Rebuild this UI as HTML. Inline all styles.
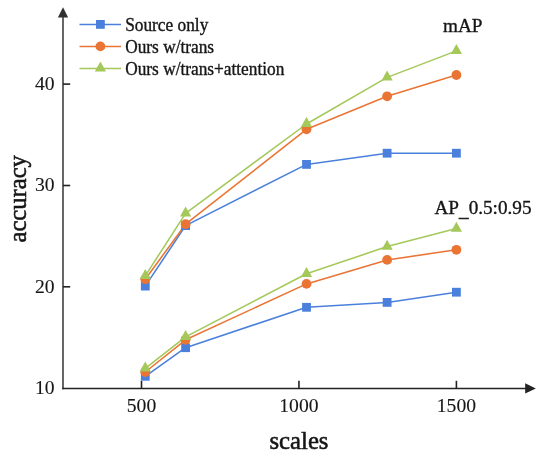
<!DOCTYPE html>
<html><head><meta charset="utf-8"><style>
html,body{margin:0;padding:0;background:#fff;width:550px;height:452px;overflow:hidden}
svg{display:block;font-family:"Liberation Serif",serif}
.t{fill:#161616;stroke:#161616;stroke-width:0.35px}
.b{stroke-width:0.55px}
.n{stroke-width:0.12px}
</style></head><body>
<svg width="550" height="452" viewBox="0 0 550 452">
<line x1="63.0" y1="17" x2="63.0" y2="389.30" stroke="#404040" stroke-width="1.6"/>
<line x1="62.20" y1="388.5" x2="526" y2="388.5" stroke="#222222" stroke-width="1.6"/>
<polygon points="63.0,7.2 68.1,17.6 57.9,17.6" fill="#303030"/>
<polygon points="535.8,388.5 525.2,383.3 525.2,393.6" fill="#222222"/>
<line x1="63.0" y1="84.1" x2="70.2" y2="84.1" stroke="#222222" stroke-width="1.6"/>
<line x1="63.0" y1="185.5" x2="70.2" y2="185.5" stroke="#222222" stroke-width="1.6"/>
<line x1="63.0" y1="286.8" x2="70.2" y2="286.8" stroke="#222222" stroke-width="1.6"/>
<line x1="141.50" y1="380.8" x2="141.50" y2="388.5" stroke="#222222" stroke-width="1.6"/>
<line x1="298.95" y1="380.8" x2="298.95" y2="388.5" stroke="#222222" stroke-width="1.6"/>
<line x1="456.40" y1="380.8" x2="456.40" y2="388.5" stroke="#222222" stroke-width="1.6"/>
<text x="54.5" y="90.0" text-anchor="end" font-size="19.6" class="t n">40</text>
<text x="54.5" y="191.4" text-anchor="end" font-size="19.6" class="t n">30</text>
<text x="54.5" y="292.7" text-anchor="end" font-size="19.6" class="t n">20</text>
<text x="54.5" y="394.4" text-anchor="end" font-size="19.6" class="t n">10</text>
<text x="141.5" y="411.6" text-anchor="middle" font-size="19.6" class="t n">500</text>
<text x="298.9" y="411.6" text-anchor="middle" font-size="19.6" class="t n">1000</text>
<text x="456.4" y="411.6" text-anchor="middle" font-size="19.6" class="t n">1500</text>
<polyline points="145.28,286.10 185.59,225.60 306.51,164.40 387.12,153.20 456.40,153.20" fill="none" stroke="#4A80DC" stroke-width="1.55" stroke-linejoin="round"/>
<polyline points="145.28,279.20 185.59,224.20 306.51,129.30 387.12,96.30 456.40,75.00" fill="none" stroke="#EA7434" stroke-width="1.55" stroke-linejoin="round"/>
<polyline points="145.28,275.90 185.59,213.30 306.51,124.00 387.12,77.40 456.40,50.90" fill="none" stroke="#A4C85A" stroke-width="1.55" stroke-linejoin="round"/>
<rect x="140.88" y="281.70" width="8.8" height="8.8" fill="#4A80DC"/>
<rect x="181.19" y="221.20" width="8.8" height="8.8" fill="#4A80DC"/>
<rect x="302.11" y="160.00" width="8.8" height="8.8" fill="#4A80DC"/>
<rect x="382.72" y="148.80" width="8.8" height="8.8" fill="#4A80DC"/>
<rect x="452.00" y="148.80" width="8.8" height="8.8" fill="#4A80DC"/>
<circle cx="145.28" cy="279.20" r="4.9" fill="#EA7434"/>
<circle cx="185.59" cy="224.20" r="4.9" fill="#EA7434"/>
<circle cx="306.51" cy="129.30" r="4.9" fill="#EA7434"/>
<circle cx="387.12" cy="96.30" r="4.9" fill="#EA7434"/>
<circle cx="456.40" cy="75.00" r="4.9" fill="#EA7434"/>
<polygon points="145.28,269.00 150.88,279.00 139.68,279.00" fill="#A4C85A"/>
<polygon points="185.59,206.40 191.19,216.40 179.99,216.40" fill="#A4C85A"/>
<polygon points="306.51,117.10 312.11,127.10 300.91,127.10" fill="#A4C85A"/>
<polygon points="387.12,70.50 392.72,80.50 381.52,80.50" fill="#A4C85A"/>
<polygon points="456.40,44.00 462.00,54.00 450.80,54.00" fill="#A4C85A"/>
<polyline points="145.28,376.30 185.59,347.70 306.51,307.30 387.12,302.40 456.40,292.20" fill="none" stroke="#4A80DC" stroke-width="1.55" stroke-linejoin="round"/>
<polyline points="145.28,372.00 185.59,339.80 306.51,283.90 387.12,259.90 456.40,249.80" fill="none" stroke="#EA7434" stroke-width="1.55" stroke-linejoin="round"/>
<polyline points="145.28,368.40 185.59,336.90 306.51,273.80 387.12,246.60 456.40,228.60" fill="none" stroke="#A4C85A" stroke-width="1.55" stroke-linejoin="round"/>
<rect x="140.88" y="371.90" width="8.8" height="8.8" fill="#4A80DC"/>
<rect x="181.19" y="343.30" width="8.8" height="8.8" fill="#4A80DC"/>
<rect x="302.11" y="302.90" width="8.8" height="8.8" fill="#4A80DC"/>
<rect x="382.72" y="298.00" width="8.8" height="8.8" fill="#4A80DC"/>
<rect x="452.00" y="287.80" width="8.8" height="8.8" fill="#4A80DC"/>
<circle cx="145.28" cy="372.00" r="4.9" fill="#EA7434"/>
<circle cx="185.59" cy="339.80" r="4.9" fill="#EA7434"/>
<circle cx="306.51" cy="283.90" r="4.9" fill="#EA7434"/>
<circle cx="387.12" cy="259.90" r="4.9" fill="#EA7434"/>
<circle cx="456.40" cy="249.80" r="4.9" fill="#EA7434"/>
<polygon points="145.28,361.50 150.88,371.50 139.68,371.50" fill="#A4C85A"/>
<polygon points="185.59,330.00 191.19,340.00 179.99,340.00" fill="#A4C85A"/>
<polygon points="306.51,266.90 312.11,276.90 300.91,276.90" fill="#A4C85A"/>
<polygon points="387.12,239.70 392.72,249.70 381.52,249.70" fill="#A4C85A"/>
<polygon points="456.40,221.70 462.00,231.70 450.80,231.70" fill="#A4C85A"/>
<line x1="79.5" y1="24.4" x2="121" y2="24.4" stroke="#4A80DC" stroke-width="1.55"/>
<rect x="96.00" y="20.00" width="8.8" height="8.8" fill="#4A80DC"/>
<text transform="translate(125.2,30.6) scale(1,1.07)" font-size="17.3" class="t">Source only</text>
<line x1="79.5" y1="46.4" x2="121" y2="46.4" stroke="#EA7434" stroke-width="1.55"/>
<circle cx="100.40" cy="46.40" r="4.9" fill="#EA7434"/>
<text transform="translate(125.2,52.6) scale(1,1.07)" font-size="17.3" class="t">Ours w/trans</text>
<line x1="79.5" y1="68.5" x2="121" y2="68.5" stroke="#A4C85A" stroke-width="1.55"/>
<polygon points="100.40,61.60 106.00,71.60 94.80,71.60" fill="#A4C85A"/>
<text transform="translate(125.2,74.7) scale(1,1.07)" font-size="17.3" class="t">Ours w/trans+attention</text>
<text x="443" y="31.6" font-size="19.2" class="t">mAP</text>
<text x="434.5" y="214.4" font-size="19.2" class="t">AP<tspan dy="3">_</tspan><tspan dy="-3">0.5:0.95</tspan></text>
<text x="269.5" y="449" font-size="24.7" class="t b">scales</text>
<text transform="translate(26.2,242.5) rotate(-90)" font-size="24.6" class="t b">accuracy</text>
</svg>
</body></html>
